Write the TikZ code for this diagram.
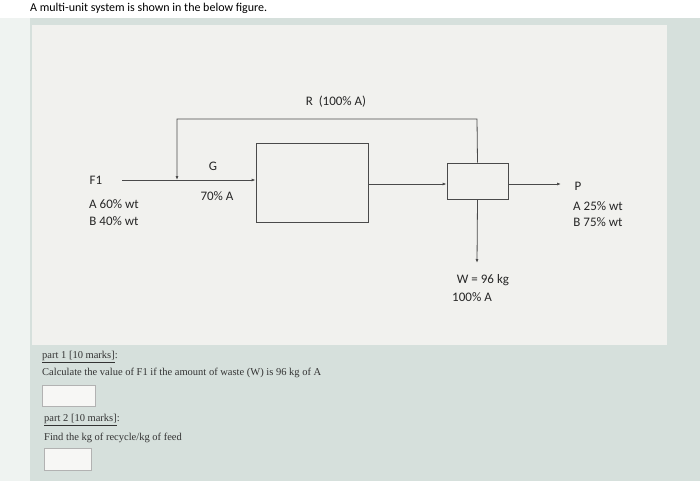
\documentclass[tikz,border=0pt]{standalone}
\usepackage{fontspec}
\setmainfont{Carlito}
\newfontfamily\qfont{Liberation Serif}
\usetikzlibrary{arrows.meta}
\definecolor{bgc}{HTML}{D6E0DC}
\definecolor{panel}{HTML}{F1F1EE}
\definecolor{ln}{HTML}{4A4A4A}
\tikzset{x=1pt,y=-1pt,
 lbl/.style={font=\fontsize{13}{14}\selectfont,text=black!85,inner sep=0pt},
 q/.style={font=\qfont\fontsize{10.5}{12}\selectfont,text=black!80,inner sep=0pt,anchor=west},
 unit/.style={draw=ln,line width=0.8pt},
 flow/.style={draw=ln,line width=0.8pt,-{Latex[length=4pt,width=3pt]}},
 ans/.style={draw=black!30,fill=panel!60,line width=0.6pt}}
\begin{document}
\begin{tikzpicture}
\useasboundingbox (0,0) rectangle (700,481);
\fill[bgc] (0,0) rectangle (700,481);
\fill[white] (0,0) rectangle (700,18);
\fill[white!60!bgc] (0,18) rectangle (30,481);
\fill[panel] (32,25) rectangle (667,345);
\node[anchor=west,inner sep=0pt,font=\fontsize{12}{13}\selectfont] (title) at (30,8) {A multi-unit system is shown in the below figure.};
% units
\node[unit,minimum width=112pt,minimum height=79pt,inner sep=0pt] (reac) at (312,182.5) {};
\node[unit,minimum width=61pt,minimum height=36pt,inner sep=0pt] (sep) at (477.5,181) {};
\coordinate (f1s) at (122,180);
\coordinate (mix) at (177,180);
\coordinate (rtop) at (477,119);
\coordinate (pend) at (561,184);
\coordinate (wend) at (477,263);
\draw[unit] (f1s) -- (mix);
\draw[flow] (mix) -- (reac.west |- mix);
\draw[flow] (sep.north) -- (rtop) -| (mix);
\draw[flow] (reac.east |- pend) -- (sep.west |- pend);
\draw[flow] (sep.east |- pend) -- (pend);
\draw[flow] (sep.south) -- (wend);
% labels
\node[lbl] (lf1) at (96,180) {F1};
\node[lbl] (la) at (114,204) {A 60\% wt};
\node[lbl] (lb) at (114,221) {B 40\% wt};
\node[lbl] (lg) at (213,166) {G};
\node[lbl] (lg2) at (217,196) {70\% A};
\node[lbl] (lr) at (336,102) {R\ \ (100\% A)};
\node[lbl] (lp) at (578,186) {P};
\node[lbl] (lpa) at (598,206) {A 25\% wt};
\node[lbl] (lpb) at (598,222) {B 75\% wt};
\node[lbl] (lw) at (483,280) {W = 96 kg};
\node[lbl] (lw2) at (472,297) {100\% A};
% questions
\node[q] (p1) at (42,357) {\underline{part 1 [10 marks]}:};
\node[q] (q1) at (42,373) {Calculate the value of F1 if the amount of waste (W) is 96 kg of A};
\node[ans,minimum width=53pt,minimum height=21pt,inner sep=0pt] (a1) at (68.5,395.5) {};
\node[q] (p2) at (44,420) {\underline{part 2 [10 marks]}:};
\node[q] (q2) at (44,438) {Find the kg of recycle/kg of feed};
\node[ans,minimum width=47pt,minimum height=22pt,inner sep=0pt] (a2) at (67.5,459) {};
\end{tikzpicture}
\end{document}
